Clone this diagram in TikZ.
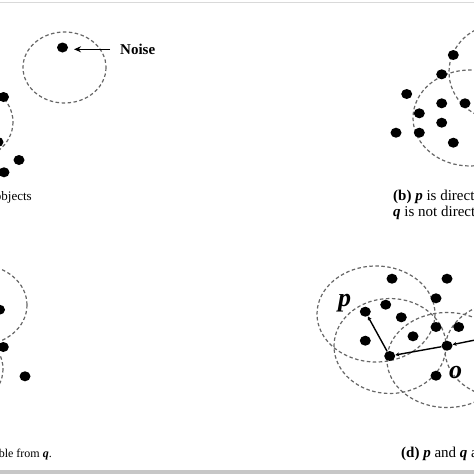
\documentclass[tikz,border=0pt]{standalone}
\usepackage{fontspec}
\setmainfont{Liberation Serif}
\usetikzlibrary{shapes.geometric,arrows.meta}
\tikzset{
  dot/.style={ellipse,fill=black,inner sep=0pt,minimum width=11pt,minimum height=10pt},
  nbhd/.style={draw=black!60,line width=1.2pt,dash pattern=on 3.5pt off 2.5pt},
  link/.style={line width=1.4pt,-{Stealth[length=4pt,width=4pt]}},
  noisearrow/.style={line width=1.5pt,-{Stealth[length=7pt,width=6pt]}},
  captext/.style={font=\fontsize{12}{14}\selectfont,inner sep=0pt},
  bigcap/.style={font=\fontsize{15}{17}\selectfont,inner sep=0pt},
  lab/.style={font=\fontsize{26}{28}\selectfont\bfseries\itshape,inner sep=0pt},
}
\begin{document}
\begin{tikzpicture}[x=1pt,y=-1pt]
\useasboundingbox (0,0) rectangle (474,474);
\clip (0,0) rectangle (474,474);
\fill[white] (0,0) rectangle (474,474);
% frame lines
\draw[black!15,line width=1.5pt] (0,2.5) -- (474,2.5);
\fill[black!22] (0,470) rectangle (474,474);

% ---------- panel (a) ----------
\draw[nbhd] (64.5,67.5) ellipse [x radius=41.5,y radius=35.5];
\draw[nbhd] (-35,122) ellipse [x radius=48,y radius=40];
\node[dot] (n1) at (62.5,47.5) {};
\node[dot] (a1) at (3.5,97) {};
\node[dot] (a2) at (-2,142) {};
\node[dot] (a3) at (19,160) {};
\node[dot] (a4) at (4,172.3) {};
\node[anchor=west,inner sep=0pt,font=\fontsize{15}{17}\selectfont\bfseries] (noisetext) at (120,49.3) {Noise};
\coordinate (na) at (110,49.3);
\coordinate (nb) at (74,49.3);
\draw[noisearrow] (na) -- (nb);
\node[captext,font=\fontsize{13}{15}\selectfont,anchor=base east] (capa) at (32,200.5) {\textbf{(a)} Core, border, and noise objects};

% ---------- panel (b) ----------
\draw[nbhd] (470,118) ellipse [x radius=57,y radius=48];
\draw[nbhd] (500,72) ellipse [x radius=51,y radius=48];
\node[dot] (b1) at (453.3,55) {};
\node[dot] (b2) at (441.7,74.3) {};
\node[dot] (b3) at (406.7,94) {};
\node[dot] (b4) at (441.7,103.3) {};
\node[dot] (b5) at (465,103.3) {};
\node[dot] (b6) at (419.3,113.3) {};
\node[dot] (b7) at (441.7,122.7) {};
\node[dot] (b8) at (396,132.7) {};
\node[dot] (b9) at (419.3,132.7) {};
\node[dot] (b10) at (453.3,142.7) {};
\node[bigcap,anchor=base west] (capb1) at (393,200) {\textbf{(b)} \textbf{\textit{p}} is directly density-reachable from \textbf{\textit{q}};};
\node[bigcap,anchor=base west] (capb2) at (393,216) {\textbf{\textit{q}} is not directly density-reachable from \textbf{\textit{p}}};

% ---------- panel (c) ----------
\draw[nbhd] (-20,305) ellipse [x radius=47,y radius=40];
\draw[nbhd] (-45,369) ellipse [x radius=48,y radius=40];
\node[dot] (c1) at (-0.5,309.7) {};
\node[dot] (c2) at (3.3,347) {};
\node[dot] (c3) at (25,376.3) {};
\node[captext,anchor=base east] (capc) at (52,457.7) {\textbf{(c)} \textbf{\textit{p}} is density-reachable from \textbf{\textit{q}}.};

% ---------- panel (d) ----------
\draw[nbhd] (376,314) ellipse [x radius=59,y radius=48];
\draw[nbhd] (390,346) ellipse [x radius=56,y radius=47.5];
\draw[nbhd] (447,360) ellipse [x radius=60,y radius=47.5];
\draw[nbhd] (504,350) ellipse [x radius=59,y radius=48];
\node[dot] (d1) at (392,278.7) {};
\node[dot] (d2) at (447,278.7) {};
\node[dot] (d3) at (436,298.3) {};
\node[dot] (d4) at (385.7,304.7) {};
\node[dot] (dp) at (365.3,311.7) {};
\node[dot] (d5) at (401.3,317.3) {};
\node[dot] (d6) at (436,327) {};
\node[dot] (d7) at (458.7,327) {};
\node[dot] (d8) at (413,336.3) {};
\node[dot] (d9) at (365.3,340.7) {};
\node[dot] (dq) at (447,345.7) {};
\node[dot] (dm) at (389.7,356) {};
\node[dot] (do) at (436,375.7) {};
\coordinate (dr) at (490,337);
\node[lab] (plab) at (344.5,303) {p};
\node[lab] (olab) at (455.5,372) {o};
\draw[link] (dm) -- (dp);
\draw[link] (dq) -- (dm);
\draw[link] (dr) -- (dq);
\node[bigcap,anchor=base west] (capd) at (401,457.7) {\textbf{(d)} \textbf{\textit{p}} and \textbf{\textit{q}} are density-connected};
\end{tikzpicture}
\end{document}
